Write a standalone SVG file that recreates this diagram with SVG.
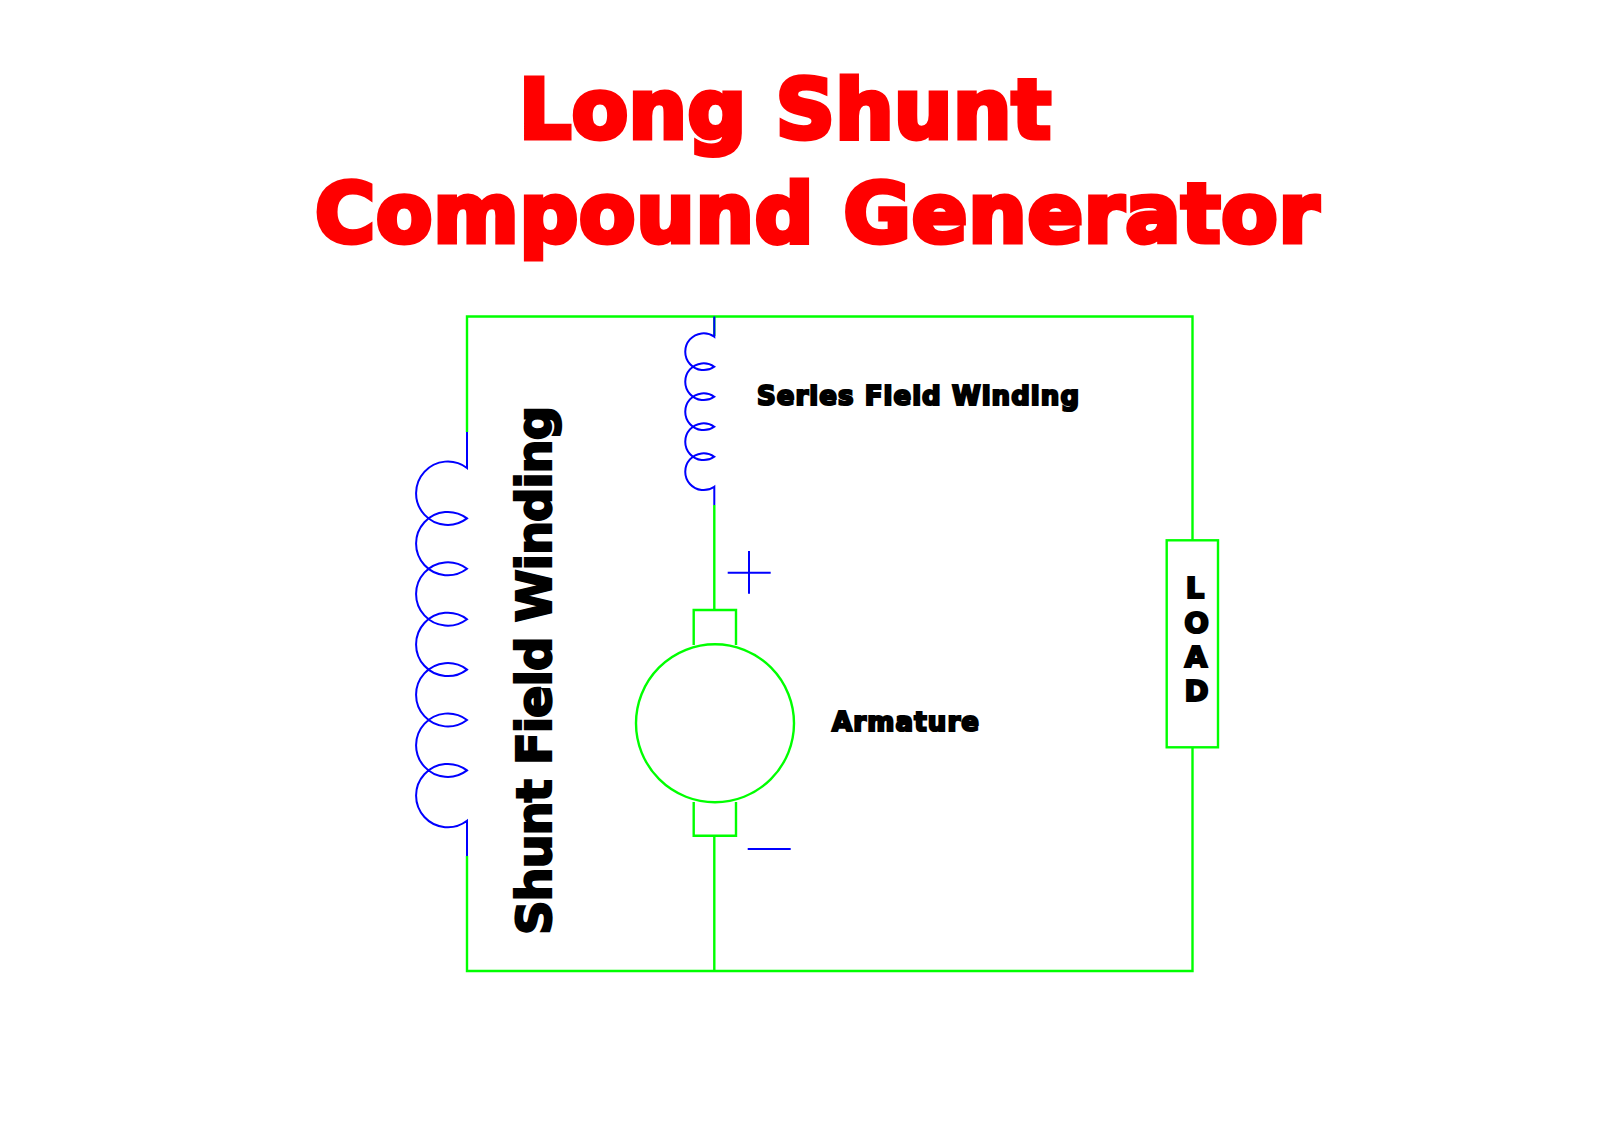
<svg xmlns="http://www.w3.org/2000/svg" width="1600" height="1131" viewBox="0 0 1600 1131">
<style>
text{font-family:"DejaVu Sans","Liberation Sans",sans-serif;font-weight:bold}
.t{fill:#f00;stroke:#f00;stroke-width:5;font-size:82px}
.l{fill:#000;stroke:#000;stroke-width:2.2}
.g{fill:none;stroke:#0f0;stroke-width:2.4}
.b{fill:none;stroke:#00f;stroke-width:2}
</style>
<rect width="1600" height="1131" fill="#fff"/>
<text class="t" x="519" y="137.500" textLength="532">Long Shunt</text>
<text class="t" x="315" y="241.500" textLength="1004">Compound Generator</text>
<g id="connectors">
<path class="g" d="M467 432V316.500H1192.500V540.500M714.300 316.500V336M714.300 505V610M467 856V971H1192.500V747.500M714.300 836V971"/>
</g>
<g id="shunt-field-winding">
<path class="b" d="M467 432V468A31.7 31.7 0 1 0 467 518.400A31.7 31.7 0 1 0 467 568.800A31.7 31.7 0 1 0 467 619.200A31.7 31.7 0 1 0 467 669.600A31.7 31.7 0 1 0 467 720A31.7 31.7 0 1 0 467 770.400A31.7 31.7 0 1 0 467 820.800V856"/>
<text class="l" transform="translate(550.500 935) rotate(-90)" font-size="48" stroke-width="2.5" textLength="529">Shunt Field Winding</text>
</g>
<g id="series-field-winding">
<path class="b" d="M714.300 316.500V336.700A18.400 18.400 0 1 0 714.300 366.700A18.400 18.400 0 1 0 714.300 396.700A18.400 18.400 0 1 0 714.300 426.700A18.400 18.400 0 1 0 714.300 456.700A18.400 18.400 0 1 0 714.300 486.700V505"/>
<text class="l" x="757" y="405" font-size="26" textLength="322">Series Field Winding</text>
</g>
<g id="armature">
<path class="g" d="M693.700 645V610H736V645M693.700 802V835.700H736V802"/>
<circle class="g" cx="715" cy="723.300" r="79"/>
<text class="l" x="832" y="731" font-size="26" textLength="147">Armature</text>
</g>
<g id="load">
<rect class="g" x="1166.700" y="540.300" width="51.300" height="207"/>
<g class="l" font-size="29" stroke-width="1.8" text-anchor="middle">
<text x="1195" y="597.500">L</text><text x="1196.500" y="632.500">O</text><text x="1196" y="666.500">A</text><text x="1196.500" y="701">D</text>
</g>
</g>
<g id="plus"><path class="b" d="M727.700 572.700H770.700M749 551V593.700"/></g>
<g id="minus"><path class="b" d="M747.700 849H790.700"/></g>
</svg>
